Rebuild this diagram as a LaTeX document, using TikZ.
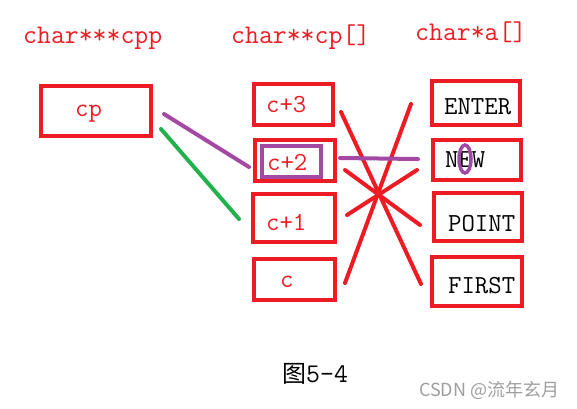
\documentclass[tikz,border=0pt]{standalone}
\usepackage{fontspec}
\usepackage{xcolor}
\usepackage{tikz}
\newfontfamily\cjk{Noto Sans CJK SC}
\definecolor{pred}{HTML}{ED1C24}
\definecolor{ppurple}{HTML}{A349A4}
\definecolor{pgreen}{HTML}{22B14C}

\begin{document}
\begin{tikzpicture}[x=1pt,y=-1pt,
  box/.style={draw=pred,line width=4pt,inner sep=0pt},
  word/.style={font=\fontsize{26}{26}\ttfamily,inner sep=0pt,anchor=base west},
  wire/.style={line width=4pt,line cap=round}]
 \useasboundingbox (0,0) rectangle (577,408);
% titles
 \node[word,text=pred,font=\fontsize{27}{27}\ttfamily] (tcpp) at (23,43) {char***cpp};
 \node[word,text=pred,font=\fontsize{27}{27}\ttfamily] (tcp) at (231,43) {char**cp[]};
 \node[word,text=pred,font=\fontsize{27}{27}\ttfamily] (ta) at (415,40) {char*a[]};
% cpp
 \node[box,minimum width=110pt,minimum height=50pt] (cpp) at (96,111) {};
 \node[word,text=pred] (cpptxt) at (75,116) {cp};
% cp[]
 \node[box,minimum width=79pt,minimum height=41pt] (cp3) at (293.5,104.5) {};
 \node[box,minimum width=80pt,minimum height=41pt] (cp2) at (295,160.5) {};
 \node[box,minimum width=82pt,minimum height=48pt] (cp1) at (294,218) {};
 \node[box,minimum width=81pt,minimum height=41pt] (cp0) at (294.5,279.5) {};
 \node[draw=ppurple,line width=3.5pt,inner sep=0pt,minimum width=59pt,minimum height=31pt] (mark) at (291.5,161.5) {};
 \node[word,text=pred] (cp3txt) at (266,112) {c+3};
 \node[word,text=pred] (cp2txt) at (267,170) {c+2};
 \node[word,text=pred] (cp1txt) at (266,230) {c+1};
 \node[word,text=pred] (cp0txt) at (280,287) {c};
% a[]
 \node[box,minimum width=88pt,minimum height=44pt] (enter) at (476,103) {};
 \node[box,minimum width=88pt,minimum height=40pt] (new) at (477,160) {};
 \node[box,minimum width=88pt,minimum height=48pt] (point) at (478,217) {};
 \node[box,minimum width=90pt,minimum height=49pt] (first) at (477,281.5) {};
 \node[word] (entertxt) at (444,114) {ENTER};
 \node[word] (newtxt) at (445,167) {NEW};
 \node[word] (pointtxt) at (448,231) {POINT};
 \node[word] (firsttxt) at (448,293) {FIRST};
% wire ends
 \coordinate (cppa) at (164,114);
 \coordinate (cppb) at (161,129);
 \coordinate (cp2a) at (249,167);
 \coordinate (cp1a) at (239,219);
 \coordinate (cp3r) at (341,112);
 \coordinate (cp2r) at (345,170);
 \coordinate (cp2m) at (340,158);
 \coordinate (cp1r) at (347,215);
 \coordinate (cp0r) at (345,283);
 \coordinate (enterl) at (411,104);
 \coordinate (newl) at (417,170);
 \coordinate (newm) at (418,159);
 \coordinate (pointl) at (420,225);
 \coordinate (firstl) at (421,284);
% wires
 \draw[wire,ppurple] (cppa) -- (cp2a);
 \draw[wire,pgreen] (cppb) -- (cp1a);
 \draw[wire,pred] (cp3r) -- (firstl);
 \draw[wire,pred] (cp0r) -- (enterl);
 \draw[wire,pred] (cp2r) -- (pointl);
 \draw[wire,pred] (cp1r) -- (newl);
 \draw[wire,ppurple] (cp2m) -- (newm);
 \draw[ppurple,line width=3.5pt] (465,159) ellipse (6 and 14);
% caption
 \node[inner sep=0pt,anchor=base west] (cap) at (282,382) {\fontsize{24}{24}\cjk 图\fontsize{27}{27}\ttfamily 5-4};
 \node[inner sep=0pt,anchor=west,text=black!38] (wmark) at (419,390) {\fontsize{18}{18}\cjk CSDN @流年玄月};
\end{tikzpicture}
\end{document}
